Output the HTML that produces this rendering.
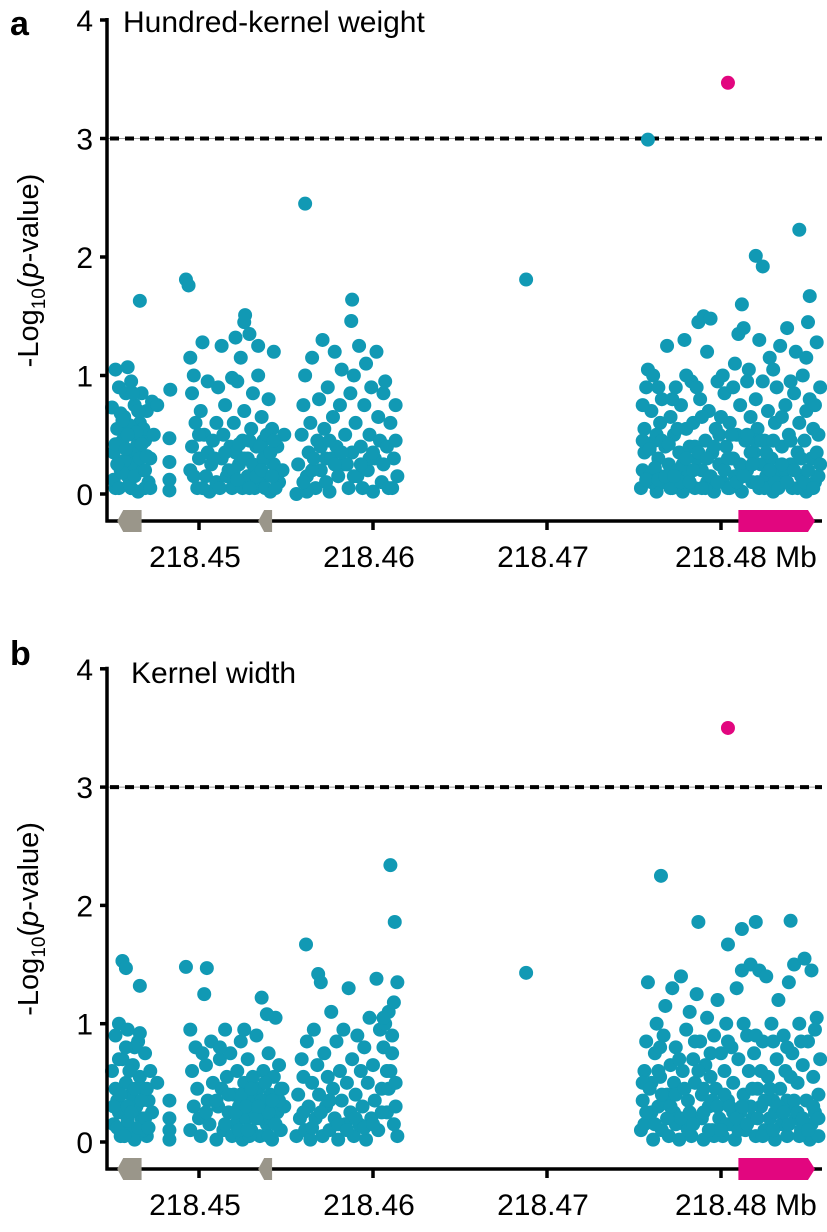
<!DOCTYPE html>
<html><head><meta charset="utf-8"><style>
html,body{margin:0;padding:0;background:#fff}
svg{display:block;font-family:"Liberation Sans",Arial,sans-serif}
</style></head><body>
<svg id="chart" width="827" height="1232" viewBox="0 0 827 1232" xmlns="http://www.w3.org/2000/svg"></svg>
<script>
// positions in kb offset from 218.44 Mb, values are -log10(p)
const xTicks = [10, 20, 30, 40];
const xTickLabels = ["218.45", "218.46", "218.47", "218.48 Mb"];
const yTicks = [0, 1, 2, 3, 4];
const threshold = 3;
const genesGrey = [[5.3, 6.7], [13.4, 14.2]];
const geneLead = [41.0, 45.4];
const leadA = [40.4, 3.47];
const leadB = [40.4, 3.5];
const snpsA = [
[5.0,.73],[5.2,1.05],[5.4,.9],[5.3,.55],[5.1,.35],[5.5,.2],[5.2,.05],[5.6,.45],[5.8,.85],[5.7,.65],[5.9,1.07],[6.0,.3],[6.1,.05],[5.9,.15],[6.2,.5],[6.3,.75],[6.4,.4],[6.2,.25],[6.5,.02],[6.6,.6],[6.7,.85],[6.8,.2],[6.9,.45],[7.0,.7],[7.1,.1],[7.2,.3],[5.1,.12],[5.5,.68],[6.1,.95],[6.5,.35],[6.8,.55],[7.3,.78],[5.2,.42],[5.7,.28],[6.9,.05],[6.0,.58],[7.4,.5],[6.6,1.63],[7.6,.75],[8.3,.47],[8.3,.27],[8.3,.12],[8.3,.03],[8.35,.88],
[5.4,.05],[5.6,.18],[5.8,.38],[6.0,.08],[6.3,.15],[6.6,.3],[6.9,.2],[7.2,.05],[5.3,.25],[5.6,.62],[6.4,.52],[6.7,.42],[7.0,.32],[5.9,.5],[6.2,.85],[6.5,.7],
[9.5,1.15],[9.7,1.0],[9.6,.85],[9.8,.6],[9.6,.4],[9.5,.2],[9.9,.05],[10.0,.3],[10.1,.7],[10.3,.5],[10.5,.35],[10.4,.15],[10.6,.02],[10.8,.45],[10.7,.25],[11.0,.6],[11.1,.9],[11.0,.1],[11.3,.3],[11.4,.5],[11.5,.75],[11.6,.15],[11.8,.4],[11.9,.05],[12.0,.6],[12.2,.95],[12.3,.25],[12.4,1.15],[12.5,.45],[12.6,.7],[12.7,.1],[12.8,.3],[13.0,.55],[13.1,.85],[13.2,.05],[13.3,.4],[13.4,1.0],[13.5,.2],[13.6,.65],[13.7,.45],[13.8,.15],[13.9,.3],[14.0,.8],[14.1,.02],[14.2,.55],[14.3,1.2],[14.3,.25],[14.5,.4],[14.6,.1],[14.8,.2],[14.9,.5],[12.9,1.35],[12.6,1.45],[11.3,1.25],[10.2,1.28],[10.5,.95],[11.9,.98],[13.4,1.25],[11.7,.2],[12.1,.35],[12.8,.15],[13.4,.1],[13.8,.05],[12.5,.05],[11.2,.05],[10.2,.05],[9.25,1.81],[9.4,1.76],[12.65,1.51],[12.1,1.32],
[12.0,.2],[12.3,.42],[12.6,.3],[12.9,.45],[13.1,.25],[13.3,.15],[13.5,.4],[13.7,.3],[13.9,.5],[14.1,.35],[14.3,.45],[14.4,.05],[12.2,.12],[12.9,.05],[13.6,.2],[14.2,.15],[10.9,.3],[11.5,.35],[10.0,.5],[9.7,.15],
[15.6,0],[15.7,.25],[15.9,.5],[16.0,.75],[16.1,1.0],[16.2,.15],[16.3,.35],[16.4,.6],[16.5,1.15],[16.7,.05],[16.8,.45],[16.9,.8],[17.0,.2],[17.1,1.3],[17.2,.55],[17.3,.3],[17.4,.9],[17.5,.02],[17.7,.65],[17.8,1.2],[17.9,.4],[18.0,.15],[18.1,.75],[18.2,1.05],[18.3,.25],[18.4,.5],[18.6,.05],[18.7,.85],[18.8,.35],[18.9,1.0],[19.0,.6],[19.1,.15],[19.2,1.25],[19.3,.4],[19.5,.75],[19.6,1.1],[19.7,.2],[19.8,.5],[19.9,.9],[20.0,.02],[20.1,.3],[20.2,1.2],[20.3,.65],[20.4,.45],[20.5,.1],[20.6,.85],[20.7,.95],[20.8,.4],[20.9,.05],[21.0,.6],[21.2,.3],[21.3,.75],[21.4,.15],[16.2,.02],[17.6,.3],[18.5,.25],[19.4,.05],[19.8,.3],[16.1,2.45],[18.8,1.64],[18.75,1.46],
[16.0,.1],[16.5,.2],[17.0,.4],[17.3,.1],[17.8,.25],[18.2,.35],[18.9,.15],[19.3,.25],[20.0,.35],[20.6,.25],[21.1,.05],[21.3,.45],[16.6,.3],[17.5,.45],
[28.8,1.81],[35.8,2.99],[44.5,2.23],[42.0,2.01],[42.4,1.92],[45.1,1.67],[41.2,1.6],
[35.4,.05],[35.5,.2],[35.6,.55],[35.7,.9],[35.8,1.05],[35.6,.35],[35.9,.15],[36.0,.7],[36.1,1.0],[36.2,.45],[36.3,.02],[36.4,.3],[36.5,.6],[36.6,.8],[36.7,.1],[36.8,.4],[36.9,1.25],[37.0,.25],[37.1,.65],[37.2,.05],[37.3,.5],[37.4,.9],[37.5,.2],[37.6,.35],[37.7,.75],[37.8,.02],[37.9,1.3],[38.0,.55],[38.1,.15],[38.2,.4],[38.3,.95],[38.4,.6],[38.5,.05],[38.6,.3],[38.7,1.45],[38.8,.8],[38.9,.2],[39.0,1.5],[39.1,.45],[39.2,.1],[39.3,.7],[39.4,1.48],[39.5,.35],[39.6,.02],[39.7,.55],[39.8,.95],[39.9,.25],[40.0,.65],[40.1,.1],[40.2,.85],[40.3,.4],[40.4,.05],[40.5,.6],[40.6,.3],[40.7,.9],[40.8,.15],[40.9,.5],[41.0,1.35],[41.1,.75],[41.2,.02],[41.3,1.4],[41.4,.45],[41.5,.2],[41.6,1.05],[41.7,.65],[41.8,.1],[41.9,.35],[42.0,.8],[42.1,.55],[42.2,.05],[42.3,.25],[42.4,.95],[42.5,.45],[42.6,.15],[42.7,.7],[42.8,1.15],[42.9,.3],[43.0,.02],[43.1,.6],[43.2,.9],[43.3,.2],[43.4,1.25],[43.5,.4],[43.6,.1],[43.7,.75],[43.8,1.4],[43.9,.5],[44.0,.25],[44.1,.05],[44.2,.85],[44.3,1.2],[44.4,.35],[44.5,.6],[44.6,.15],[44.7,1.0],[44.8,.45],[44.9,.02],[45.0,1.45],[45.1,.8],[45.2,.3],[45.3,.55],[45.4,.1],[45.5,1.28],[45.6,.5],[45.7,.9],[36.0,.1],[36.5,.15],[37.1,.05],[37.7,.1],[38.5,.4],[39.1,.05],[39.9,.5],[40.5,.05],[41.1,.25],[41.7,.35],[42.5,.05],[43.1,.1],[43.7,.2],[44.4,.05],[45.1,.05],[45.6,.15],[35.5,.75],[36.3,.5],[38.9,.65],[40.7,.3],[42.0,.45],[43.5,.65],[44.9,.7],
[35.5,.45],[35.7,.12],[35.9,.38],[36.2,.22],[36.4,.12],[36.6,.45],[36.8,.15],[37.0,.42],[37.3,.15],[37.5,.55],[37.8,.25],[38.0,.3],[38.2,.1],[38.4,.2],[38.7,.35],[38.9,.05],[39.2,.3],[39.4,.15],[39.6,.4],[39.8,.1],[40.0,.25],[40.2,.2],[40.4,.3],[40.6,.5],[40.9,.1],[41.3,.15],[41.5,.5],[41.8,.25],[42.1,.1],[42.3,.45],[42.6,.35],[42.8,.2],[43.0,.45],[43.3,.05],[43.5,.25],[43.8,.1],[44.0,.45],[44.2,.2],[44.6,.3],[44.8,.1],[45.0,.2],[45.3,.05],[45.5,.35],[45.7,.25],[36.4,.9],[37.2,.8],[38.0,1.0],[38.6,.9],[39.2,1.2],[40.1,1.0],[40.8,1.1],[41.5,.95],[42.2,1.3],[43.0,1.05],[44.0,.95],[44.9,1.15],[45.4,.75]
];
const snpsB = [
[5.0,.6],[5.1,.15],[5.2,.9],[5.3,.35],[5.4,1.0],[5.5,.05],[5.6,1.53],[5.8,1.47],[5.6,.7],[5.7,.25],[5.8,.5],[5.9,.95],[6.0,.1],[6.1,.4],[6.2,.65],[6.3,.02],[6.4,.3],[6.5,.85],[6.6,.55],[6.7,.2],[6.8,.45],[6.9,.75],[7.0,.05],[7.1,.35],[7.2,.6],[5.2,.45],[5.4,.25],[5.9,.3],[6.3,.8],[6.6,1.32],[6.8,.1],[7.3,.25],[7.6,.5],[8.3,.35],[8.3,.2],[8.3,.1],[8.3,.02],
[5.1,.3],[5.3,.12],[5.5,.4],[5.7,.05],[5.9,.18],[6.1,.25],[6.3,.45],[6.5,.12],[6.7,.35],[6.9,.2],[7.1,.12],[5.4,.7],[6.0,.6],[6.6,.92],[7.0,.45],[5.8,.8],
[9.25,1.48],[10.45,1.47],[9.5,.95],[9.6,.6],[9.7,.3],[9.5,.1],[9.8,.8],[9.9,.45],[10.0,.2],[10.1,.05],[10.3,1.25],[10.4,.65],[10.5,.35],[10.6,.15],[10.7,.85],[10.8,.5],[11.0,.02],[11.1,.3],[11.2,.7],[11.3,.45],[11.4,.1],[11.5,.95],[11.6,.55],[11.7,.25],[11.8,.75],[11.9,.05],[12.0,.4],[12.1,.15],[12.2,.6],[12.3,.3],[12.4,.85],[12.5,.02],[12.6,.5],[12.7,.2],[12.8,.7],[12.9,.35],[13.0,.1],[13.1,.55],[13.2,.25],[13.3,.9],[13.4,.45],[13.5,.05],[13.6,1.22],[13.7,.6],[13.8,.3],[13.9,.15],[14.0,.75],[14.1,.4],[14.2,.02],[14.3,.55],[14.4,1.05],[14.5,.25],[14.6,.65],[14.7,.1],[14.8,.45],[14.9,.3],[13.9,1.08],[12.6,.95],[11.2,.8],[10.2,.75],[12.9,.05],[13.5,.2],[14.1,.2],[12.3,.1],[11.5,.15],[13.2,.35],[14.6,.35],
[12.1,.25],[12.4,.4],[12.7,.3],[13.0,.45],[13.3,.2],[13.6,.35],[13.8,.5],[14.0,.25],[14.2,.35],[14.4,.15],[14.7,.45],[12.8,.1],[13.4,.3],[14.0,.05],[11.0,.35],[11.7,.4],[10.4,.25],
[15.6,.05],[15.7,.4],[15.8,.2],[15.9,.7],[16.0,.55],[16.1,.1],[16.15,1.67],[16.2,.85],[16.3,.3],[16.4,.02],[16.5,.5],[16.6,.95],[16.7,.2],[16.8,.65],[16.85,1.42],[16.9,.4],[17.0,1.35],[17.1,.05],[17.2,.75],[17.3,.3],[17.4,.55],[17.5,.1],[17.6,1.1],[17.7,.45],[17.8,.2],[17.9,.85],[18.0,.02],[18.1,.6],[18.2,.35],[18.3,.95],[18.4,.15],[18.5,.5],[18.6,1.3],[18.7,.25],[18.8,.7],[18.9,.05],[19.0,.4],[19.1,.9],[19.2,.15],[19.3,.6],[19.4,.3],[19.5,.8],[19.6,.02],[19.7,.5],[19.8,1.05],[19.9,.2],[20.0,.65],[20.1,.35],[20.2,1.38],[20.3,.1],[20.4,.95],[20.5,.45],[20.6,.8],[20.7,1.0],[20.8,.25],[20.9,1.1],[21.0,2.34],[21.25,1.86],[21.0,.6],[21.1,.9],[21.2,1.18],[21.3,.3],[21.4,1.35],[21.4,.05],[21.2,.15],[20.9,.45],
[16.0,.25],[16.5,.12],[17.0,.25],[17.5,.35],[18.0,.15],[18.5,.1],[19.0,.2],[19.5,.12],[20.0,.15],[20.5,.25],[21.3,.5],[21.1,.75],[20.8,.6],[20.6,1.05],
[28.8,1.43],[36.55,2.25],[38.7,1.86],[42.0,1.86],[44.0,1.87],[41.2,1.8],[40.4,1.67],
[35.4,.1],[35.5,.35],[35.6,.6],[35.7,.85],[35.8,1.35],[35.9,.2],[36.0,.5],[36.1,.02],[36.2,.75],[36.3,1.0],[36.4,.3],[36.5,.55],[36.6,.1],[36.7,.9],[36.8,1.15],[36.9,.4],[37.0,.05],[37.1,.65],[37.2,1.3],[37.3,.25],[37.4,.8],[37.5,.45],[37.6,.02],[37.7,1.4],[37.8,.6],[37.9,.15],[38.0,.95],[38.1,.35],[38.2,1.1],[38.3,.05],[38.4,.7],[38.5,.5],[38.6,1.25],[38.7,.2],[38.8,.85],[38.9,.4],[39.0,.02],[39.1,.65],[39.2,1.05],[39.3,.3],[39.4,.55],[39.5,.1],[39.6,.9],[39.7,.45],[39.8,1.2],[39.9,.2],[40.0,.75],[40.1,.05],[40.2,.6],[40.3,1.0],[40.4,.35],[40.5,.15],[40.6,.8],[40.7,.5],[40.8,.02],[40.9,1.3],[41.0,.7],[41.1,.25],[41.2,1.45],[41.3,.4],[41.4,.1],[41.5,.9],[41.6,.6],[41.7,1.5],[41.8,.2],[41.9,.75],[42.0,.05],[42.1,.45],[42.2,1.45],[42.3,.3],[42.4,.85],[42.5,.1],[42.6,1.4],[42.7,.55],[42.8,.2],[42.9,1.0],[43.0,.35],[43.1,.02],[43.2,.7],[43.3,1.2],[43.4,.45],[43.5,.15],[43.6,.9],[43.7,.6],[43.8,.05],[43.9,1.35],[44.0,.3],[44.1,.75],[44.2,1.5],[44.3,.2],[44.4,.5],[44.5,1.0],[44.6,.1],[44.7,.65],[44.8,1.55],[44.9,.35],[45.0,.85],[45.1,.02],[45.2,1.45],[45.3,.55],[45.4,.25],[45.5,1.05],[45.6,.4],[45.7,.7],[36.0,.25],[36.7,.35],[37.4,.15],[38.1,.1],[38.9,.2],[39.6,.05],[40.3,.15],[41.0,.1],[41.7,.3],[42.4,.05],[43.1,.25],[43.8,.35],[44.5,.05],[45.2,.15],[45.6,.05],[35.6,.15],[37.3,.5],[39.0,.45],[40.7,.25],[42.3,.6],[44.0,.55],
[35.5,.5],[35.7,.25],[35.9,.45],[36.2,.15],[36.4,.6],[36.6,.4],[36.9,.2],[37.1,.3],[37.4,.4],[37.7,.2],[37.9,.45],[38.2,.25],[38.4,.15],[38.7,.6],[39.0,.25],[39.3,.1],[39.5,.35],[39.8,.3],[40.0,.1],[40.2,.4],[40.5,.3],[40.9,.2],[41.2,.3],[41.5,.15],[41.8,.45],[42.1,.2],[42.5,.35],[42.8,.45],[43.0,.1],[43.3,.3],[43.6,.25],[43.9,.15],[44.2,.35],[44.4,.25],[44.7,.2],[45.0,.1],[45.3,.3],[45.6,.2],[36.5,.8],[37.6,.7],[38.5,.85],[39.4,.75],[40.4,.85],[41.3,1.0],[42.0,.9],[43.0,.85],[43.8,.8],[44.6,.85],[45.4,.95]
];

const NS = "http://www.w3.org/2000/svg";
const svg = document.getElementById("chart");
function el(tag, attrs, parent, text) {
  const e = document.createElementNS(NS, tag);
  for (const k in attrs) e.setAttribute(k, attrs[k]);
  if (text !== undefined) e.textContent = text;
  (parent || svg).appendChild(e);
  return e;
}
const X0 = 107, XR = 822;
function xScale(kb) { return 199 + (kb - 10) * 17.4; }

function panel(cfg) {
  const g = el("g", {});
  
  
  const yScale = v => cfg.y0 - v * cfg.unit;
  const axisY = cfg.axisY;
  const letter = el("text", {x: 10, y: cfg.letterY, "font-size": 34, "font-weight": "bold"}, g, cfg.letter);
  
  
  const title = el("text", {x: cfg.titleX, y: cfg.titleY, "font-size": 30}, g, cfg.title);
  
  
  const yt = el("text", {x: 0, y: 0, "font-size": 29, "text-anchor": "middle",
    transform: `translate(38,${(yScale(4) + axisY) / 2}) rotate(-90)`}, g);
  
  
  el("tspan", {}, yt, "-Log");
  el("tspan", {"font-size": 19, dy: 7}, yt, "10");
  el("tspan", {dy: -7}, yt, "(");
  el("tspan", {"font-style": "italic"}, yt, "p");
  el("tspan", {}, yt, "-value)");
  const tg = el("g", {}, g);
  
  
  el("line", {x1: X0, x2: XR, y1: yScale(threshold), y2: yScale(threshold), stroke: "#999", "stroke-width": 1}, tg);
  el("line", {x1: X0 + 3, x2: XR, y1: yScale(threshold), y2: yScale(threshold), stroke: "#000", "stroke-width": 4, "stroke-dasharray": "9 6"}, tg);
  const pg = el("g", {}, g);
  
  
  cfg.snps.forEach(d => {
    const c = el("circle", {cx: xScale(d[0]), cy: yScale(d[1]), r: 7, fill: "#1199b4"}, pg);
    
    
  });
  const lp = el("circle", {cx: xScale(cfg.lead[0]), cy: yScale(cfg.lead[1]), r: 7, fill: "#e2067f"}, g);
  
  
  const ya = el("line", {x1: X0, x2: X0, y1: yScale(4) - 2, y2: axisY + 1.5, stroke: "#000", "stroke-width": 3.5}, g);
  
  
  yTicks.forEach(t => {
    el("line", {x1: X0 - 7, x2: X0, y1: yScale(t), y2: yScale(t), stroke: "#000", "stroke-width": 3.5}, g);
    const tl = el("text", {x: 93, y: yScale(t) + 11, "font-size": 30, "text-anchor": "end"}, g, String(t));
    
    
  });
  const xa = el("line", {x1: X0 - 1.5, x2: XR, y1: axisY, y2: axisY, stroke: "#000", "stroke-width": 3.5}, g);
  
  
  genesGrey.forEach(gn => {
    const a = xScale(gn[0]), b = xScale(gn[1]), h = 11, tip = 6;
    const p = el("polygon", {points: `${a},${axisY} ${a + tip},${axisY - h} ${b},${axisY - h} ${b},${axisY + h} ${a + tip},${axisY + h}`, fill: "#9a968a"}, g);
    
    
  });
  {
    const a = xScale(geneLead[0]), b = xScale(geneLead[1]), h = 11, tip = 7;
    const p = el("polygon", {points: `${a},${axisY - h} ${b - tip},${axisY - h} ${b},${axisY} ${b - tip},${axisY + h} ${a},${axisY + h}`, fill: "#e2067f"}, g);
    
    
  }
  xTicks.forEach((t, i) => {
    el("line", {x1: xScale(t), x2: xScale(t), y1: axisY, y2: axisY + 9, stroke: "#000", "stroke-width": 3.5}, g);
    const last = i === xTicks.length - 1;
    const tl = el("text", {x: last ? xScale(t) - 46 : xScale(t) - 4, y: axisY + 46, "font-size": 30, "text-anchor": last ? "start" : "middle"}, g, xTickLabels[i]);
    
    
  });
}
panel({name: "panel-a-hundred-kernel-weight", letter: "a", letterY: 35, title: "Hundred-kernel weight", titleX: 123, titleY: 32,
  y0: 494, unit: 118.5, axisY: 521, snps: snpsA, lead: leadA});
panel({name: "panel-b-kernel-width", letter: "b", letterY: 665, title: "Kernel width", titleX: 131, titleY: 683,
  y0: 1142, unit: 118.3, axisY: 1169, snps: snpsB, lead: leadB});
</script>
</body></html>
